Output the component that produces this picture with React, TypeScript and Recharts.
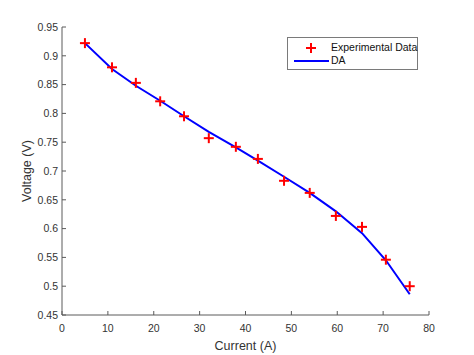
import { ComposedChart, Line, Scatter, XAxis, YAxis } from "recharts";

const currents = [5.0, 10.9, 16.1, 21.4, 26.6, 32.0, 37.9, 42.7, 48.4, 54.0, 59.7, 65.4, 70.6, 75.8];
const measured = [0.922, 0.880, 0.853, 0.821, 0.795, 0.757, 0.742, 0.721, 0.683, 0.662, 0.622, 0.603, 0.546, 0.500];
const modelled = [0.922, 0.877, 0.848, 0.822, 0.795, 0.768, 0.741, 0.718, 0.690, 0.662, 0.630, 0.592, 0.545, 0.486];
const xTicks = [0, 10, 20, 30, 40, 50, 60, 70, 80];
const yTicks = [0.45, 0.5, 0.55, 0.6, 0.65, 0.7, 0.75, 0.8, 0.85, 0.9, 0.95];

const expData = currents.map((x, i) => ({ x, v: measured[i] }));
const daData = currents.map((x, i) => ({ x, v: modelled[i] }));

const font = "'Liberation Sans', Arial, sans-serif";
const axisColor = "#5a5a5a";
const textColor = "#333";

const Plus = (props: any) => {
  const { cx, cy } = props;
  return (
    <g stroke="#ff0000" strokeWidth={2}>
      <line x1={cx - 5} y1={cy} x2={cx + 5} y2={cy} />
      <line x1={cx} y1={cy - 5} x2={cx} y2={cy + 5} />
    </g>
  );
};

const LegendBox = () => (
  <div
    style={{
      position: "absolute",
      left: 287,
      top: 37,
      width: 129,
      height: 31,
      border: "1px solid #7a7a7a",
      background: "#fff",
      fontFamily: font,
      fontSize: 10.5,
      color: "#111",
      whiteSpace: "nowrap",
    }}
  >
    <svg width={40} height={31} style={{ position: "absolute", left: 4, top: 0 }}>
      <g stroke="#ff0000" strokeWidth={2}>
        <line x1={14} y1={10} x2={24} y2={10} />
        <line x1={19} y1={5} x2={19} y2={15} />
      </g>
      <line x1={2} y1={23} x2={37} y2={23} stroke="#0000ff" strokeWidth={2} />
    </svg>
    <div style={{ position: "absolute", left: 43, top: 3 }}>Experimental Data</div>
    <div style={{ position: "absolute", left: 43, top: 16 }}>DA</div>
  </div>
);

export default function App() {
  return (
    <div style={{ position: "absolute", left: 0, top: 0, width: 474, height: 355, background: "#fff" }}>
      <ComposedChart width={474} height={355} margin={{ top: 27, right: 45, bottom: 0, left: 0 }}>
        <XAxis
          dataKey="x"
          type="number"
          domain={[0, 80]}
          ticks={xTicks}
          allowDataOverflow
          height={40}
          stroke={axisColor}
          tickSize={-4}
          tickMargin={14}
          tick={{ fill: textColor, fontSize: 10.5, fontFamily: font }}
          label={{ value: "Current (A)", position: "insideBottom", offset: 5, fill: textColor, fontSize: 12.5, fontFamily: font }}
        />
        <YAxis
          dataKey="v"
          type="number"
          domain={[0.45, 0.95]}
          ticks={yTicks}
          allowDataOverflow
          width={62}
          stroke={axisColor}
          tickSize={-4}
          tickMargin={8}
          tickFormatter={(t: number) => String(t)}
          tick={{ fill: textColor, fontSize: 10.5, fontFamily: font }}
          label={{ value: "Voltage (V)", angle: -90, position: "insideLeft", offset: 27, fill: textColor, fontSize: 12.5, fontFamily: font, style: { textAnchor: "middle" } }}
        />
        <Line
          data={daData}
          dataKey="v"
          name="DA"
          type="linear"
          stroke="#0000ff"
          strokeWidth={2}
          dot={false}
          isAnimationActive={false}
        />
        <Scatter
          data={expData}
          dataKey="v"
          name="Experimental Data"
          shape={<Plus />}
          isAnimationActive={false}
        />
      </ComposedChart>
      <LegendBox />
    </div>
  );
}
